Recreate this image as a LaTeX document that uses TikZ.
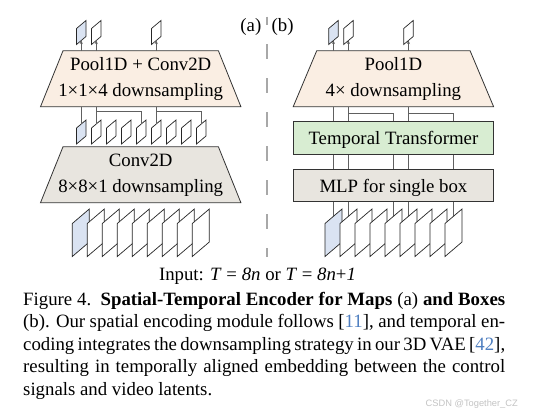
\documentclass[tikz,border=0pt]{standalone}
\usepackage{fontspec}
\setmainfont{Liberation Serif}
\newfontfamily\wmfont{Liberation Sans}
\usetikzlibrary{arrows.meta,calc}
\definecolor{peach}{HTML}{FAEEE3}
\definecolor{boxgray}{HTML}{E8E5DF}
\definecolor{ttgreen}{HTML}{D8EDD2}
\definecolor{frblue}{HTML}{DAE3F2}
\definecolor{citeblue}{HTML}{4F7FC0}
\definecolor{dashgray}{HTML}{A8A8A8}
\definecolor{wmgray}{HTML}{C4C4C4}
\definecolor{edgec}{HTML}{333333}
\definecolor{connc}{HTML}{606060}
\newcommand\myfs{\fontsize{18.8}{22.6}\selectfont}
% small frame: name, left x, bottom-left y, fill
\newcommand\smallfr[4]{%
  \filldraw[framel,fill=#4] (#2,#3) -- ++(0,-16) -- ++(9.5,-8) -- ++(0,16) -- cycle;
  \coordinate (#1) at ($(#2,#3)+(4.75,-20)$);
  \coordinate (#1b) at ($(#2,#3)+(4.75,-4)$);}
% big frame
\newcommand\bigfr[4]{%
  \filldraw[framel,fill=#4] (#2,#3) -- ++(0,-33) -- ++(17,-14.5) -- ++(0,33) -- cycle;
  \coordinate (#1) at ($(#2,#3)+(8.5,-40.25)$);}
\begin{document}
\begin{tikzpicture}[x=1pt,y=-1pt,
  txt/.style={inner sep=0pt,font=\myfs},
  framel/.style={draw=black!85,line width=0.7pt},
  conn/.style={draw=connc,line width=0.75pt},
  arr/.style={conn,-{Stealth[length=3.5pt,width=3pt]}},
  shapel/.style={draw=edgec,line width=0.8pt},
  bb/.style={inner sep=0pt,minimum width=200pt,minimum height=55.5pt}]
\fill[white] (0,0) rectangle (534,414);
\useasboundingbox (0,0) rectangle (534,414);

% ---------- (a) ----------
\node[bb] (poolA) at (140.7,78.75) {};
\filldraw[shapel,fill=peach] (poolA.south west) -- ([xshift=22.5pt]poolA.north west) -- ([xshift=-22.5pt]poolA.north east) -- (poolA.south east) -- cycle;
\node[txt,anchor=base] (tA1) at (140.7,71) {Pool1D + Conv2D};
\node[txt,anchor=base] (tA2) at (140.7,96.7) {1×1×4 downsampling};

\node[bb] (convA) at (140.7,174.75) {};
\filldraw[shapel,fill=boxgray] (convA.south west) -- ([xshift=22.5pt]convA.north west) -- ([xshift=-22.5pt]convA.north east) -- (convA.south east) -- cycle;
\node[txt,anchor=base] (tA3) at (140.7,166) {Conv2D};
\node[txt,anchor=base] (tA4) at (140.7,192.7) {8×8×1 downsampling};

% middle small frames
\smallfr{s0}{76.5}{144}{frblue}
\foreach \k in {1,...,8}{\pgfmathsetmacro\xx{76.5+15*\k}\smallfr{s\k}{\xx}{144}{white}}
\coordinate (jA) at (0,111);
\draw[conn] (s0) -- (s0 |- poolA.south);
\draw[conn] (s1) -- (s1 |- poolA.south);
\draw[conn] (s4) |- (s1 |- jA);
\draw[conn] (s5) -- (s5 |- poolA.south);
\draw[conn] (s8) |- (s5 |- jA);

% top outputs
\smallfr{oa0}{76.5}{44.5}{frblue}
\smallfr{oa1}{91.5}{44.5}{white}
\smallfr{oa5}{151.5}{44.5}{white}
\draw[arr] (oa0b |- poolA.north) -- (oa0b);
\draw[arr] (oa1b |- poolA.north) -- (oa1b);
\draw[arr] (oa5b |- poolA.north) -- (oa5b);

% bottom input frames
\bigfr{a0}{72.3}{256.5}{frblue}
\foreach \k in {1,...,8}{\pgfmathsetmacro\xx{72.3+15*\k}\bigfr{a\k}{\xx}{256.5}{white}}

% ---------- divider ----------
\coordinate (dtop) at (266.7,16.7);
\coordinate (dbot) at (266.7,256.7);
\draw[dashgray,line width=1.6pt,dash pattern=on 15pt off 19pt,dash phase=6.5pt] (dtop) -- (dbot);
\node[txt,anchor=base east] (la) at (261.5,32) {(a)};
\node[txt,anchor=base west] (lb) at (271.5,32) {(b)};

% ---------- (b) ----------
\node[bb] (poolB) at (393.4,78.75) {};
\filldraw[shapel,fill=peach] (poolB.south west) -- ([xshift=23.5pt]poolB.north west) -- ([xshift=-23.5pt]poolB.north east) -- (poolB.south east) -- cycle;
\node[txt,anchor=base] (tB1) at (393.4,71) {Pool1D};
\node[txt,anchor=base] (tB2) at (393.4,96.7) {4× downsampling};

\node[shapel,fill=ttgreen,inner sep=0pt,minimum width=200pt,minimum height=32.6pt] (tt) at (393.4,138) {};
\node[txt,anchor=base] (tB3) at (393.4,144) {Temporal Transformer};
\node[shapel,fill=boxgray,inner sep=0pt,minimum width=200pt,minimum height=32.7pt] (mlp) at (393.4,185.4) {};
\node[txt,anchor=base] (tB4) at (393.4,192.7) {MLP for single box};

% input frames (b)
\foreach \k in {0,...,8}{\pgfmathsetmacro\xx{325+15*\k}\coordinate (bx\k) at (\xx+8.5,0);}
\coordinate (jB) at (0,113.3);
\draw[conn] (bx0 |- tt.north) -- (bx0 |- poolB.south);
\draw[conn] (bx1 |- tt.north) -- (bx1 |- poolB.south);
\draw[conn] (bx4 |- tt.north) |- (bx1 |- jB);
\draw[conn] (bx5 |- tt.north) -- (bx5 |- poolB.south);
\draw[conn] (bx8 |- tt.north) |- (bx5 |- jB);
\foreach \k in {0,1,4,5,8}{
  \draw[conn] (bx\k |- mlp.north) -- (bx\k |- tt.south);
  \draw[conn] (bx\k |- mlp.south) -- ++(0,20);
}
\bigfr{b0}{325}{256.5}{frblue}
\foreach \k in {1,...,8}{\pgfmathsetmacro\xx{325+15*\k}\bigfr{b\k}{\xx}{256.5}{white}}

% top outputs (b)
\smallfr{ob0}{328.7}{44.5}{frblue}
\smallfr{ob1}{343.7}{44.5}{white}
\smallfr{ob5}{403.7}{44.5}{white}
\draw[arr] (ob0b |- poolB.north) -- (ob0b);
\draw[arr] (ob1b |- poolB.north) -- (ob1b);
\draw[arr] (ob5b |- poolB.north) -- (ob5b);

% ---------- texts ----------
\node[txt,anchor=base] (inp) at (257.5,280) {Input: \textit{T} = \textit{8n} or \textit{T} = \textit{8n}+\textit{1}};
\node[txt,anchor=base west] (c1) at (23,305) {\makebox[482pt][s]{Figure 4.\hspace{0.5em}\textbf{Spatial-Temporal Encoder for Maps} (a) \textbf{and Boxes}}};
\node[txt,anchor=base west] (c2) at (23,327.6) {\makebox[482pt][s]{(b). Our spatial encoding module follows [\textcolor{citeblue}{11}], and temporal en-}};
\node[txt,anchor=base west] (c3) at (23,350.2) {\makebox[482pt][s]{coding integrates the downsampling strategy in our 3D VAE [\textcolor{citeblue}{42}],}};
\node[txt,anchor=base west] (c4) at (23,372.8) {\makebox[482pt][s]{resulting in temporally aligned embedding between the control}};
\node[txt,anchor=base west] (c5) at (23,395.4) {signals and video latents.};
\node[anchor=base east,inner sep=0pt,font=\wmfont\fontsize{9.3}{11}\selectfont,text=wmgray] (wm) at (518,406.5) {CSDN @Together\_CZ};
\end{tikzpicture}
\end{document}
